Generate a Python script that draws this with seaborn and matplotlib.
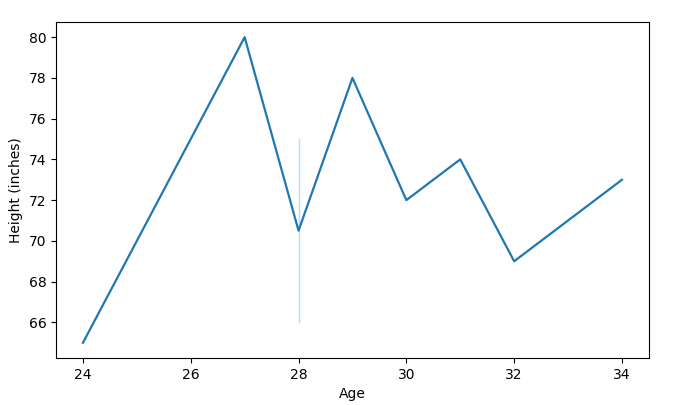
import pandas as pd
import seaborn as sns
import matplotlib
matplotlib.use("Agg")
import matplotlib.pyplot as plt

# age / height observations (age 28 has two people)
ages = [24, 25, 26, 27, 28, 28, 29, 30, 31, 32, 33, 34]
heights = [65, 70, 75, 80, 66, 75, 78, 72, 74, 69, 71, 73]

df = pd.DataFrame({"Age": ages, "Height (inches)": heights})

fig, ax = plt.subplots(figsize=(7, 4.05), dpi=100)
sns.lineplot(data=df, x="Age", y="Height (inches)", ax=ax, linewidth=1.6,
             err_style="bars",
             err_kws={"ecolor": "#b5dbfa", "elinewidth": 1.0, "capsize": 0,
                      "zorder": 1})

fig.subplots_adjust(left=0.08, right=0.927, top=0.946, bottom=0.116)
fig.savefig("out.png", dpi=100)
